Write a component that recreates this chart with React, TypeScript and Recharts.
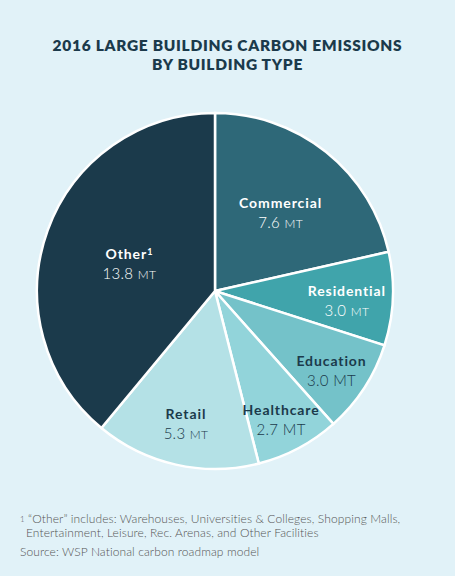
import { PieChart, Pie, Cell } from 'recharts';

const categories = ['Commercial', 'Residential', 'Education', 'Healthcare', 'Retail', 'Other'];
const emissions = [7.6, 3.0, 3.0, 2.7, 5.3, 13.8];
const units = ['MT', 'MT', 'MT', 'MT', 'MT', 'MT'];

const COLORS = ['#2e6878', '#40a4ab', '#74c2c9', '#92d4da', '#b4e1e6', '#1b3a4b'];
const TEXT = ['#ffffff', '#ffffff', '#1b3a4b', '#1b3a4b', '#1b3a4b', '#ffffff'];
// distance of each label from the centre, in px
const LABEL_R = [105, 132, 139, 141, 132, 91];
const SMALL_UNIT = [true, true, false, false, true, true];

const FONT = 'Lato, "Open Sans", sans-serif';
const DARK = '#1b3a4b';

const data = categories.map((name, i) => ({ name, value: emissions[i], unit: units[i], index: i }));

function renderLabel(props: any) {
  const { cx, cy, midAngle, index } = props;
  const RAD = Math.PI / 180;
  const r = LABEL_R[index];
  const x = cx + r * Math.cos(-midAngle * RAD);
  const y = cy + r * Math.sin(-midAngle * RAD);
  const d = data[index];
  return (
    <g>
      <text x={x} y={y - 1} textAnchor="middle" fill={TEXT[index]} fontFamily={FONT} fontWeight={700} fontSize={14} letterSpacing={0.9}>
        {d.name}
        {d.name === 'Other' ? <tspan fontSize={9} dy={-4}>1</tspan> : null}
      </text>
      <text x={x} y={y + 19} textAnchor="middle" fill={TEXT[index]} fontFamily={FONT} fontWeight={300} fontSize={15} letterSpacing={0.3}>
        {d.value.toFixed(1)} <tspan fontSize={SMALL_UNIT[index] ? 12 : 15}>{d.unit}</tspan>
      </text>
    </g>
  );
}

export default function App() {
  return (
    <div style={{ position: 'absolute', left: 0, top: 0, width: 455, height: 576, background: '#e1f2f8', fontFamily: FONT, overflow: 'hidden' }}>
      <div style={{ position: 'absolute', top: 36, left: 0, width: 455, textAlign: 'center', color: DARK, fontWeight: 800, fontSize: 15.5, lineHeight: '19px', letterSpacing: 0.7 }}>
        2016 LARGE BUILDING CARBON EMISSIONS
        <br />
        BY BUILDING TYPE
      </div>
      <div style={{ position: 'absolute', top: 0, left: 0 }}>
        <PieChart width={455} height={576} margin={{ top: 0, right: 0, bottom: 0, left: 0 }}>
          <Pie
            data={data}
            dataKey="value"
            nameKey="name"
            cx={215}
            cy={291}
            outerRadius={178}
            startAngle={90}
            endAngle={-270}
            stroke="#ffffff"
            strokeWidth={2.5}
            label={renderLabel}
            labelLine={false}
            isAnimationActive={false}
          >
            {data.map((d, i) => (
              <Cell key={d.name} fill={COLORS[i]} />
            ))}
          </Pie>
        </PieChart>
      </div>
      <div style={{ position: 'absolute', top: 512, left: 20, color: '#555', fontSize: 12, fontWeight: 300, lineHeight: '14px', letterSpacing: 0.1 }}>
        <div>
          <span style={{ fontSize: 8, verticalAlign: 'top' }}>1</span> “Other” includes: Warehouses, Universities &amp; Colleges, Shopping Malls,
        </div>
        <div style={{ paddingLeft: 6 }}>Entertainment, Leisure, Rec. Arenas, and Other Facilities</div>
        <div style={{ marginTop: 5 }}>Source: WSP National carbon roadmap model</div>
      </div>
    </div>
  );
}
